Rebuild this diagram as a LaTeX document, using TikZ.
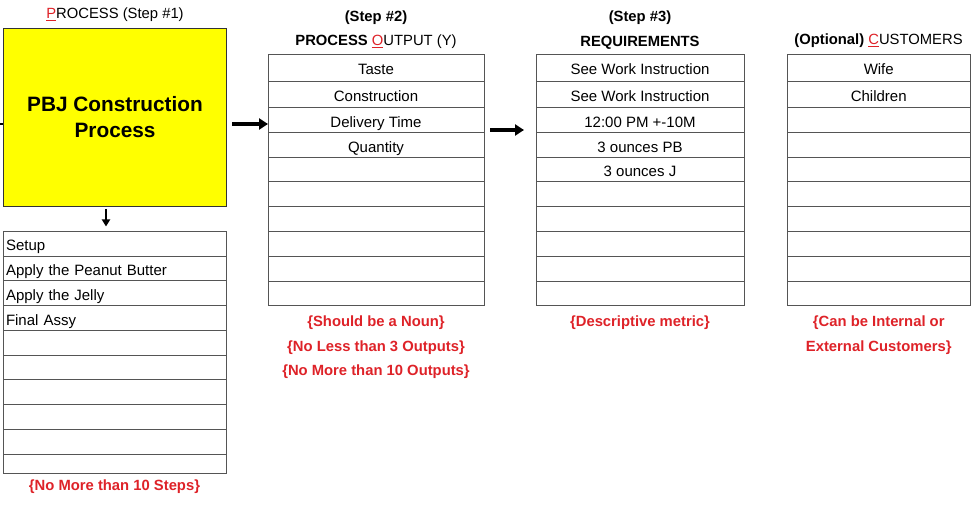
\documentclass[tikz,border=0pt]{standalone}
\usepackage{fontspec}
\setmainfont{Liberation Sans}
\usetikzlibrary{arrows.meta,positioning}
\definecolor{notered}{RGB}{222,34,40}
\definecolor{gridgray}{RGB}{85,85,85}
\definecolor{pbjyellow}{RGB}{255,255,0}
\tikzset{
  cell/.style={draw=gridgray,line width=0.9pt,inner sep=0,outer sep=0,
    minimum height=24.75pt,text height=15pt,text depth=0.6pt,
    font=\fontsize{15}{17}\selectfont},
  tallcell/.style={cell,minimum height=26.7pt},
  outcell/.style={cell,minimum width=216pt},
  reqcell/.style={cell,minimum width=208pt},
  custcell/.style={cell,minimum width=182.5pt},
  stepcell/.style={cell,minimum width=223pt,text width=217pt,align=left},
  head/.style={font=\fontsize{14.8}{17}\selectfont},
  note/.style={text=notered,align=center,inner sep=0,
    font=\fontsize{14.8}{24.5}\selectfont\bfseries},
  flow/.style={-{Triangle[length=9pt,width=11pt]},line width=3.5pt},
  flowdown/.style={-{Triangle[length=7pt,width=8pt]},line width=2.2pt}
}
\newcommand{\redcap}[1]{{\color{notered}\underline{#1}}}

\begin{document}
\begin{tikzpicture}[x=1pt,y=-1pt]
\useasboundingbox (0,0) rectangle (980,505);
% step 1: process
\node[head] (h1) at (115,15) {\redcap{P}ROCESS (Step \#1)};
\node[draw=black!80,line width=1.1pt,fill=pbjyellow,anchor=north west,
  minimum width=223pt,minimum height=178pt,inner sep=0,align=center,
  font=\fontsize{20.8}{26}\selectfont\bfseries] (pbj) at (3,28) {PBJ Construction\\Process};
\node[stepcell,anchor=north west] (s1) at (3,231.3) {Setup};
\node[stepcell] (s2) [below=0pt of s1] {Apply the Peanut Butter};
\node[stepcell] (s3) [below=0pt of s2] {Apply the Jelly};
\node[stepcell] (s4) [below=0pt of s3] {Final Assy};
\node[stepcell] (s5) [below=0pt of s4] {};
\node[stepcell] (s6) [below=0pt of s5] {};
\node[stepcell] (s7) [below=0pt of s6] {};
\node[stepcell] (s8) [below=0pt of s7] {};
\node[stepcell] (s9) [below=0pt of s8] {};
\node[stepcell,minimum height=19.3pt] (s10) [below=0pt of s9] {};
\node[note] (n1) [below=6pt of s10] {\{No More than 10 Steps\}};
% step 2: outputs
\node[head,font=\fontsize{14.8}{17}\selectfont\bfseries] (h2a) at (376,17.5) {(Step \#2)};
\node[head] (h2b) at (376,42) {\textbf{PROCESS} \redcap{O}UTPUT (Y)};
\node[outcell,tallcell,anchor=north west] (o1) at (268,54.3) {Taste};
\node[outcell,tallcell] (o2) [below=0pt of o1] {Construction};
\node[outcell] (o3) [below=0pt of o2] {Delivery Time};
\node[outcell] (o4) [below=0pt of o3] {Quantity};
\node[outcell] (o5) [below=0pt of o4] {};
\node[outcell] (o6) [below=0pt of o5] {};
\node[outcell] (o7) [below=0pt of o6] {};
\node[outcell] (o8) [below=0pt of o7] {};
\node[outcell] (o9) [below=0pt of o8] {};
\node[outcell] (o10) [below=0pt of o9] {};
\node[note] (n2) [below=10pt of o10] {\{Should be a Noun\}\\\{No Less than 3 Outputs\}\\\{No More than 10 Outputs\}};
% step 3: requirements
\node[head,font=\fontsize{14.8}{17}\selectfont\bfseries] (h3a) at (640,17.5) {(Step \#3)};
\node[head,font=\fontsize{14.8}{17}\selectfont\bfseries] (h3b) at (640,43) {REQUIREMENTS};
\node[reqcell,tallcell,anchor=north west] (r1) at (536,54.3) {See Work Instruction};
\node[reqcell,tallcell] (r2) [below=0pt of r1] {See Work Instruction};
\node[reqcell] (r3) [below=0pt of r2] {12:00 PM +-10M};
\node[reqcell] (r4) [below=0pt of r3] {3 ounces PB};
\node[reqcell] (r5) [below=0pt of r4] {3 ounces J};
\node[reqcell] (r6) [below=0pt of r5] {};
\node[reqcell] (r7) [below=0pt of r6] {};
\node[reqcell] (r8) [below=0pt of r7] {};
\node[reqcell] (r9) [below=0pt of r8] {};
\node[reqcell] (r10) [below=0pt of r9] {};
\node[note] (n3) [below=10pt of r10] {\{Descriptive metric\}};
% optional: customers
\node[head] (h4) at (878.5,40.5) {\textbf{(Optional)} \redcap{C}USTOMERS};
\node[custcell,tallcell,anchor=north west] (c1) at (787.5,54.3) {Wife};
\node[custcell,tallcell] (c2) [below=0pt of c1] {Children};
\node[custcell] (c3) [below=0pt of c2] {};
\node[custcell] (c4) [below=0pt of c3] {};
\node[custcell] (c5) [below=0pt of c4] {};
\node[custcell] (c6) [below=0pt of c5] {};
\node[custcell] (c7) [below=0pt of c6] {};
\node[custcell] (c8) [below=0pt of c7] {};
\node[custcell] (c9) [below=0pt of c8] {};
\node[custcell] (c10) [below=0pt of c9] {};
\node[note] (n4) [below=10pt of c10] {\{Can be Internal or\\External Customers\}};
% arrows
\coordinate (in) at (0,124);
\draw[line width=1.5pt] (in) -- (in -| pbj.west);
\coordinate (a1) at (232,124);
\draw[flow] (a1) -- (a1 -| o3.west);
\coordinate (a2) at (490,130);
\coordinate (a2e) at (524,130);
\draw[flow] (a2) -- (a2e);
\coordinate (a3) at (106,209);
\coordinate (a3e) at (106,226.5);
\draw[flowdown] (a3) -- (a3e);
\end{tikzpicture}
\end{document}
